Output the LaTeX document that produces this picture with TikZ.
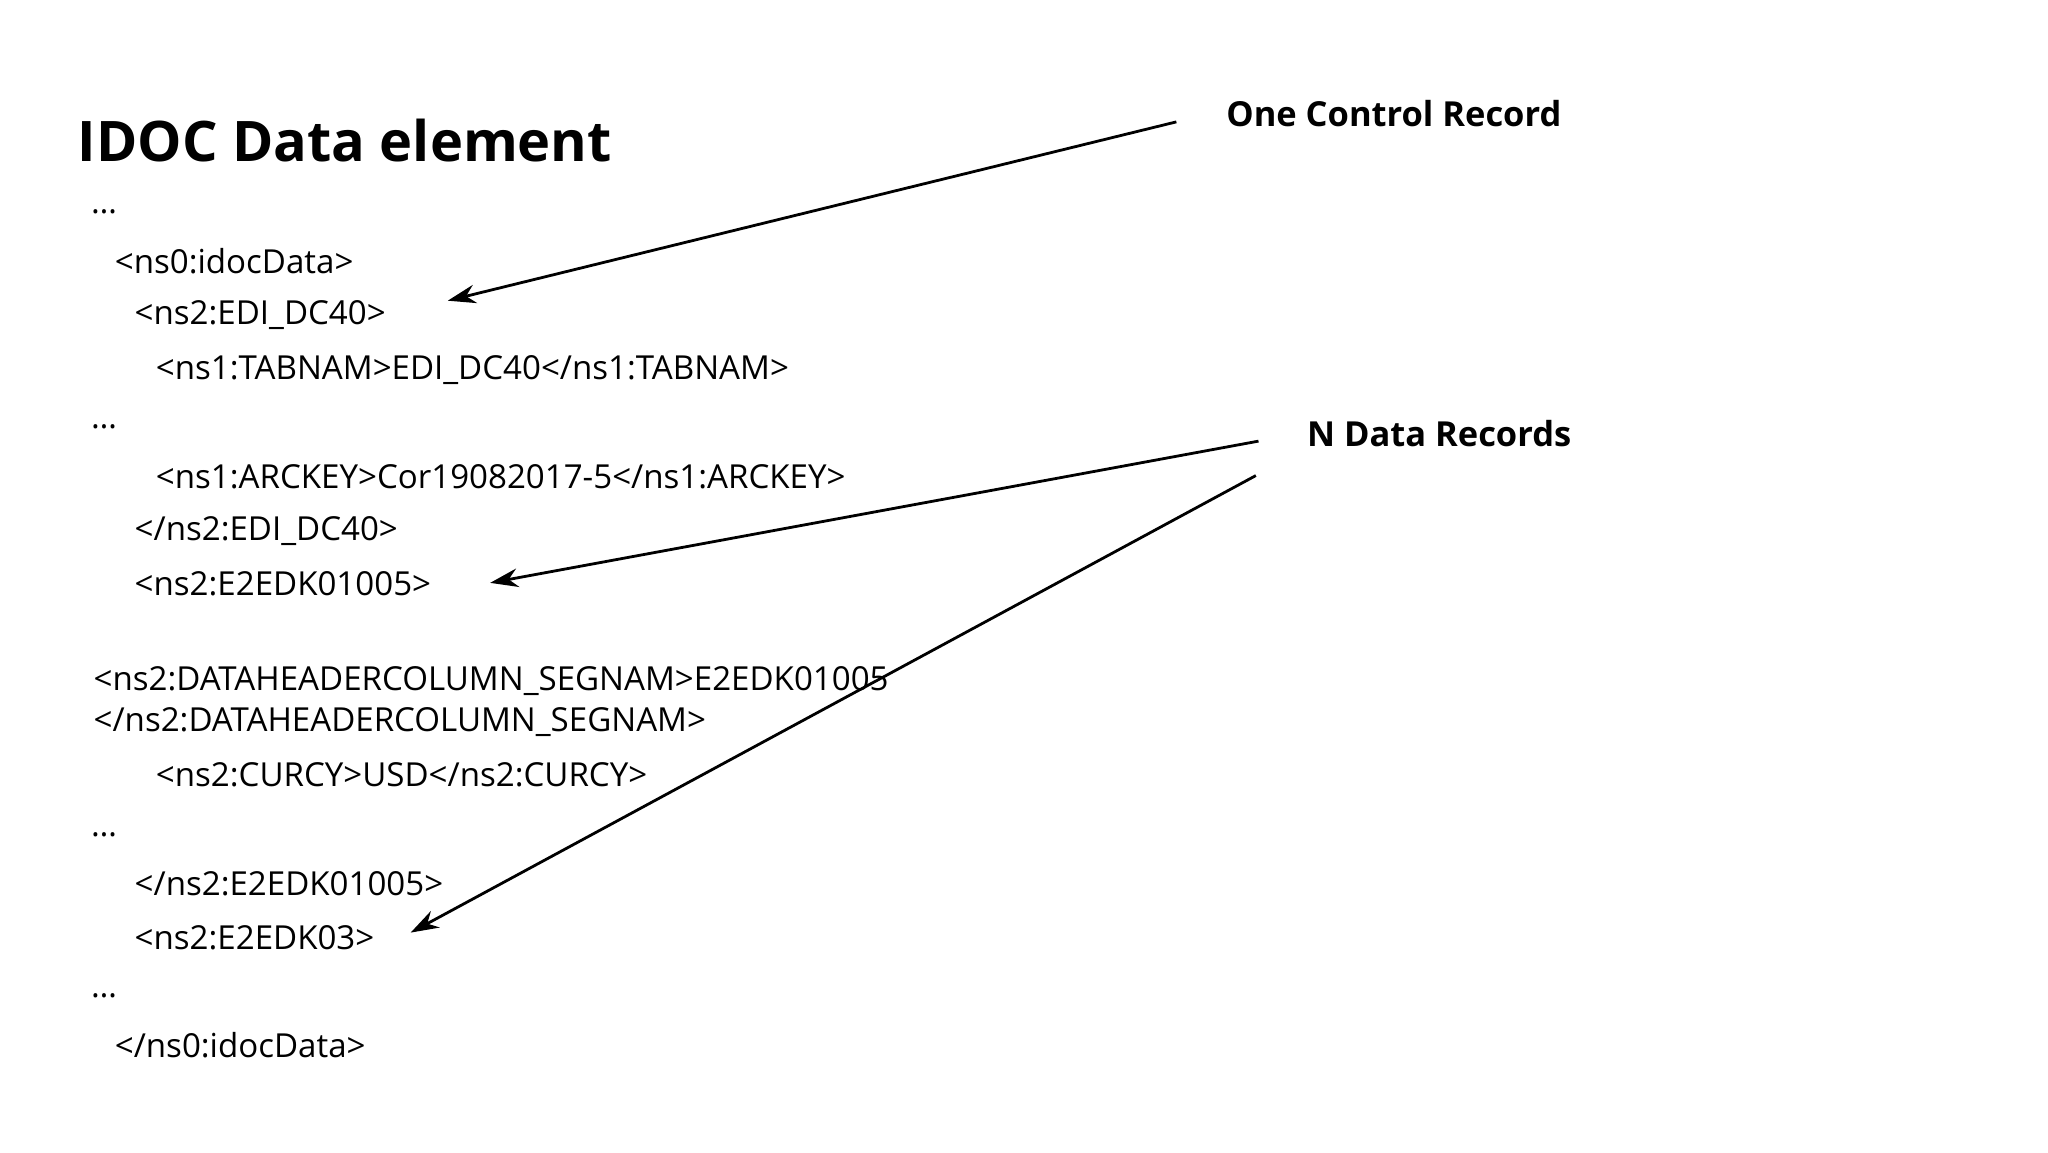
\documentclass[tikz,border=0pt]{standalone}
\usepackage{fontspec}
\setmainfont{Open Sans}
\usetikzlibrary{arrows.meta}
\begin{document}
\begin{tikzpicture}[x=0.01cm,y=-0.01cm,
  code/.style={anchor=west,inner sep=0pt,font=\fontsize{7.1pt}{8.5pt}\selectfont},
  lbl/.style={anchor=west,inner sep=0pt,font=\fontsize{7.4pt}{9pt}\selectfont\bfseries},
  arr/.style={-{Stealth[length=6pt,width=4pt]},line width=0.6pt}]
\useasboundingbox (0,0) rectangle (1546,870);
\node[anchor=west,inner sep=0pt,font=\fontsize{12pt}{14pt}\selectfont\bfseries] (title) at (58,106) {IDOC Data element};
\node[code] (d1) at (68,160) {…};
\node[code] (l1) at (86,197) {<ns0:idocData>};
\node[code] (l2) at (101,238) {<ns2:EDI\_DC40>};
\node[code] (l3) at (117,279) {<ns1:TABNAM>EDI\_DC40</ns1:TABNAM>};
\node[code] (d2) at (68,322) {…};
\node[code] (l4) at (117,360) {<ns1:ARCKEY>Cor19082017-5</ns1:ARCKEY>};
\node[code] (l5) at (101,401) {</ns2:EDI\_DC40>};
\node[code] (l6) at (101,441) {<ns2:E2EDK01005>};
\node[code] (l7) at (70,514) {<ns2:DATAHEADERCOLUMN\_SEGNAM>E2EDK01005};
\node[code] (l8) at (70,545) {</ns2:DATAHEADERCOLUMN\_SEGNAM>};
\node[code] (l9) at (117,585) {<ns2:CURCY>USD</ns2:CURCY>};
\node[code] (d3) at (68,630) {…};
\node[code] (l10) at (101,667) {</ns2:E2EDK01005>};
\node[code] (l11) at (101,708) {<ns2:E2EDK03>};
\node[code] (d4) at (68,752) {…};
\node[code] (l12) at (86,789) {</ns0:idocData>};
\node[lbl] (ctrl) at (925,86) {One Control Record};
\node[lbl] (data) at (986,327) {N Data Records};
\coordinate (c1) at (888,92);
\coordinate (c2) at (950,333);
\coordinate (c3) at (948,359);
\coordinate (t1) at (338,227);
\coordinate (t2) at (370,440);
\coordinate (t3) at (310,704);
\draw[arr] (c1) -- (t1);
\draw[arr] (c2) -- (t2);
\draw[arr] (c3) -- (t3);
\end{tikzpicture}
\end{document}
